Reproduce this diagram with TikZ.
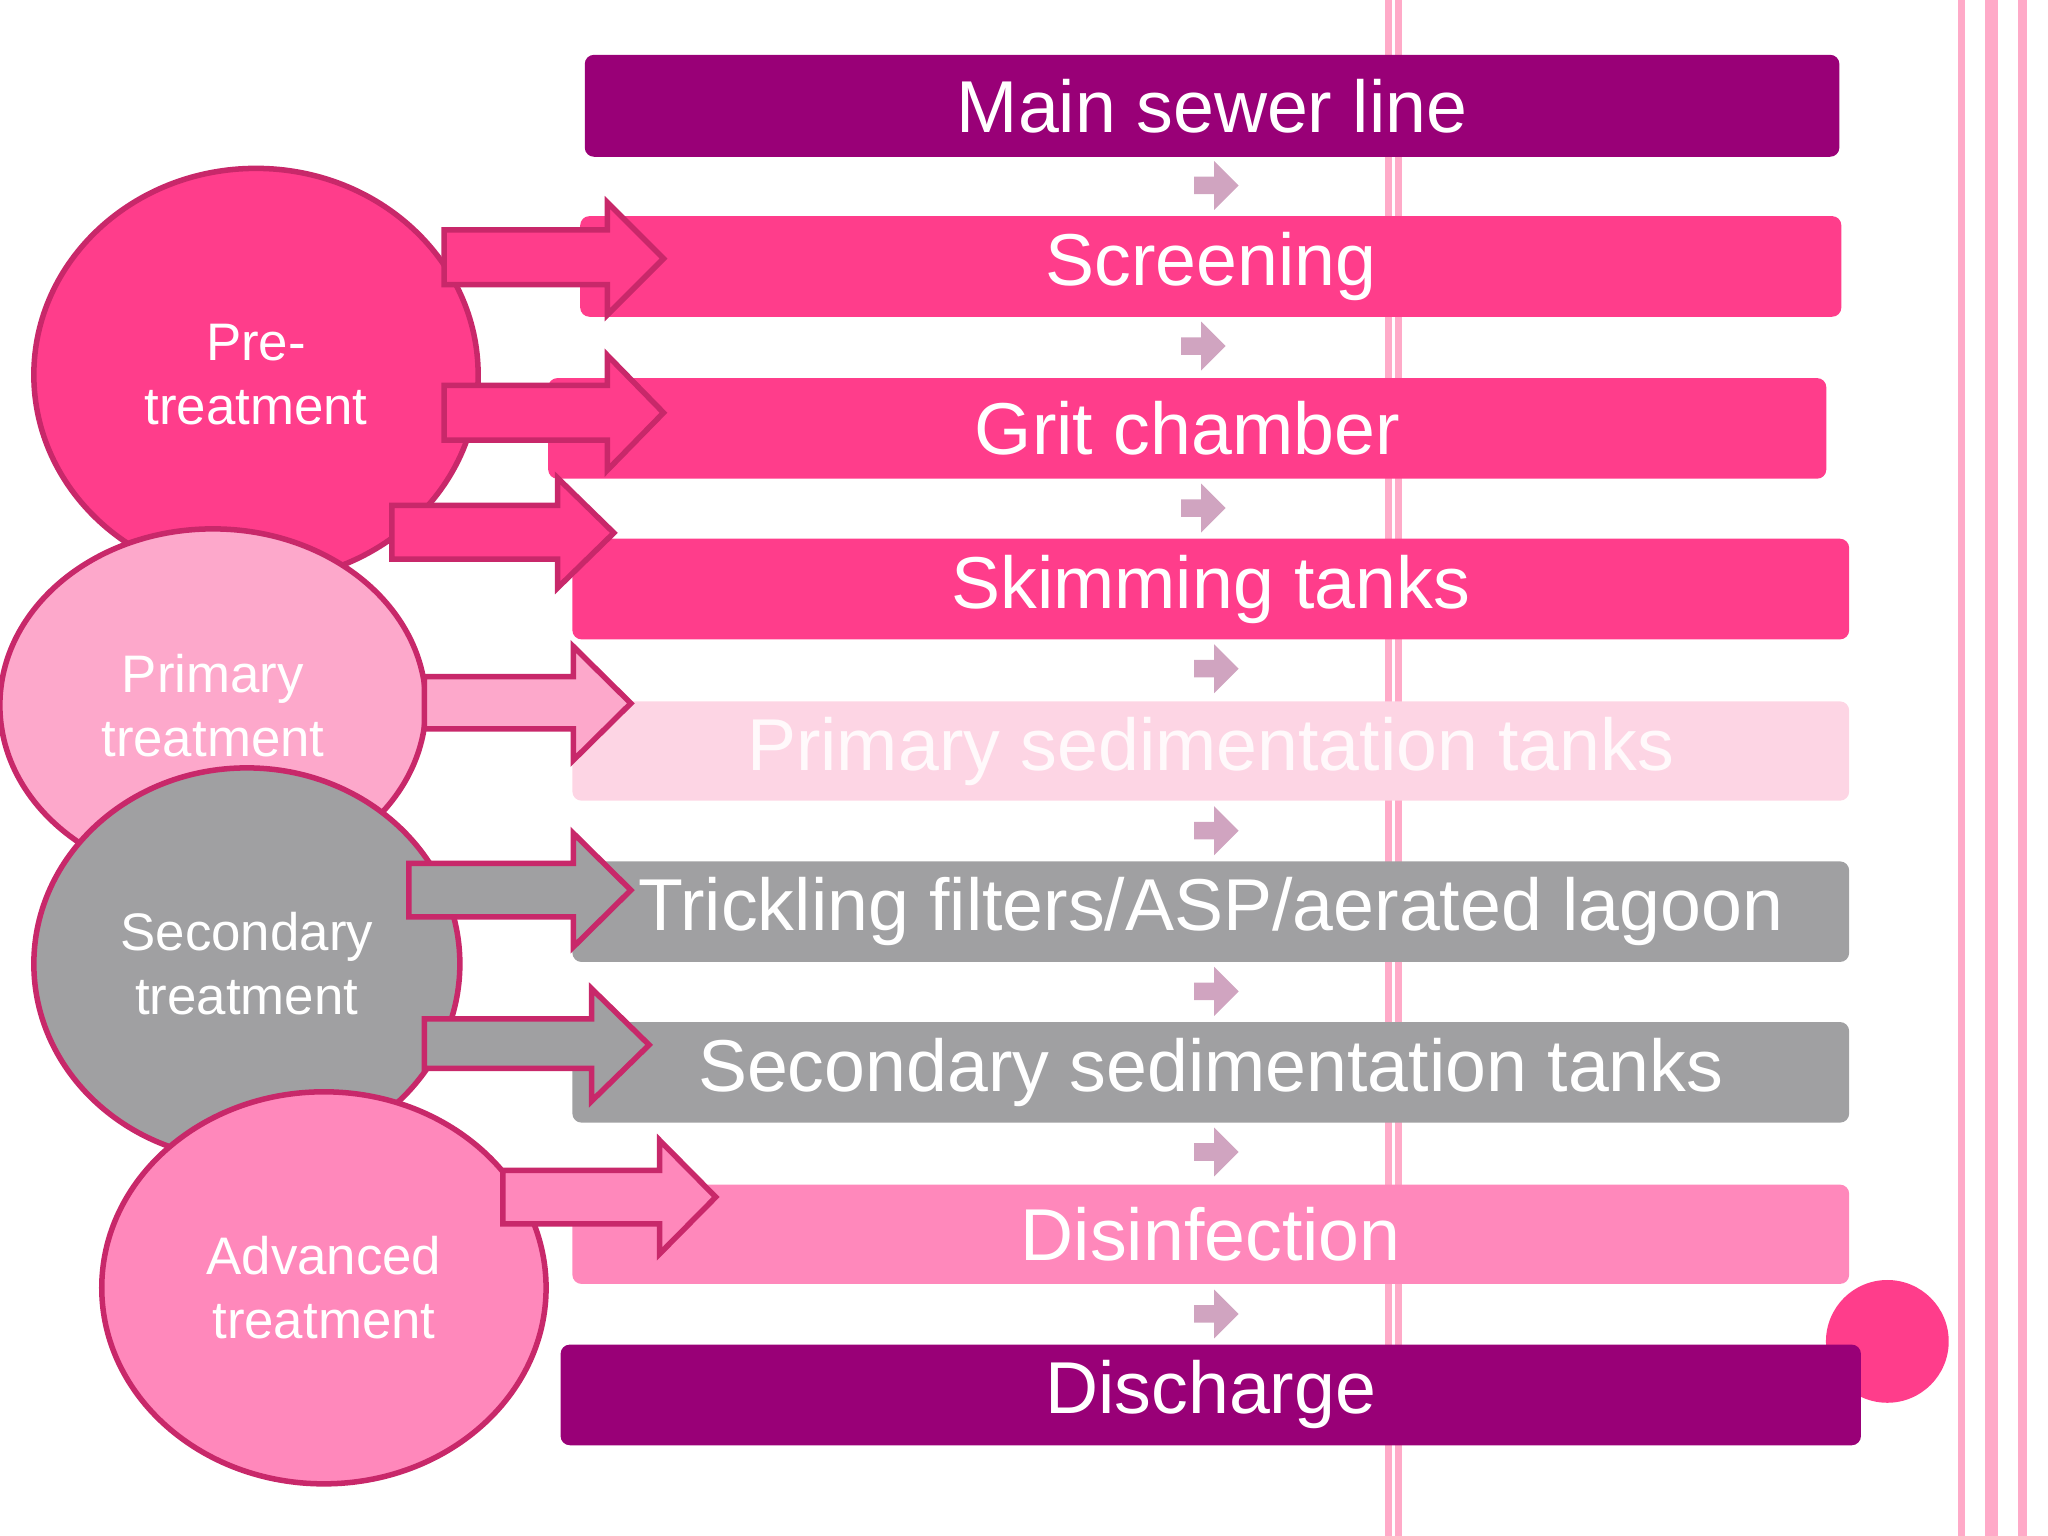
\documentclass[tikz,border=0pt]{standalone}
\usepackage{fontspec}
\setmainfont{Liberation Sans}
\usetikzlibrary{shapes.arrows,shapes.geometric}
\definecolor{purple}{RGB}{153,0,119}
\definecolor{hot}{RGB}{255,61,139}
\definecolor{rose}{RGB}{253,168,203}
\definecolor{blush}{RGB}{253,213,228}
\definecolor{grey}{RGB}{160,160,162}
\definecolor{candy}{RGB}{255,136,187}
\definecolor{edge}{RGB}{200,40,106}
\definecolor{mauve}{RGB}{208,164,192}
\definecolor{stripe}{RGB}{255,170,200}
\tikzset{
  bar/.style={rounded corners=2pt,text=white,font=\fontsize{16}{18}\selectfont,inner sep=0pt},
  blob/.style={ellipse,draw=edge,line width=1.2pt,text=white,align=center,
    font=\fontsize{11.5}{14}\selectfont,inner sep=0pt},
  push/.style={draw=edge,line width=1.2pt,line join=miter},
  stepdown/.style={single arrow,single arrow head extend=1.2mm,minimum height=3.4mm,
    minimum width=3.4mm,inner sep=0.6mm,fill=mauve,shape border rotate=-90}
}
\newcommand{\blockarrow}[8]{%
  \fill[#8] (#1,#4) -- (#3,#4) -- (#3,#6) -- (#2,{(#6+#7)/2}) -- (#3,#7) -- (#3,#5) -- (#1,#5) -- cycle;
  \draw[push] (#1,#4) -- (#3,#4) -- (#3,#6) -- (#2,{(#6+#7)/2}) -- (#3,#7) -- (#3,#5) -- (#1,#5) -- cycle;}
\begin{document}
\begin{tikzpicture}[x=0.01cm,y=-0.01cm]
        \useasboundingbox (0,0) rectangle (1568,1176);
        % page decoration
        \draw[stripe,line width=1.5pt] (1063,0) -- (1063,1176);
        \draw[stripe,line width=1.5pt] (1071,0) -- (1071,1176);
        \draw[stripe,line width=1.5pt] (1502,0) -- (1502,1176);
        \fill[stripe] (1520,0) rectangle (1530,1176);
        \fill[stripe] (1545,0) rectangle (1552,1176);
        \fill[hot] (1445,1027) circle (47);
        % process bars
        \node[bar,fill=purple,minimum width=9.6cm,minimum height=0.78cm] (sewer) at (928,81) {Main sewer line};
        \node[bar,fill=hot,minimum width=9.65cm,minimum height=0.77cm] (screen) at (927,204) {Screening};
        \node[bar,fill=hot,minimum width=9.78cm,minimum height=0.77cm] (grit) at (909,328) {Grit chamber};
        \node[bar,fill=hot,minimum width=9.77cm,minimum height=0.77cm] (skim) at (927,451) {Skimming tanks};
        \node[bar,fill=blush,text=white!85!blush,minimum width=9.77cm,minimum height=0.76cm] (psed) at (927,575) {Primary sedimentation tanks};
        \node[bar,fill=grey,minimum width=9.77cm,minimum height=0.77cm] (trick) at (927,698) {Trickling filters/ASP/aerated lagoon};
        \node[bar,fill=grey,minimum width=9.77cm,minimum height=0.77cm] (ssed) at (927,821) {Secondary sedimentation tanks};
        \node[bar,fill=candy,minimum width=9.77cm,minimum height=0.76cm] (disinf) at (927,945) {Disinfection};
        \node[bar,fill=purple,minimum width=9.95cm,minimum height=0.77cm] (out) at (927,1068) {Discharge};
        % steps between bars
        \foreach \y/\x in {142/928,265/918,389/918,512/928,636/928,759/928,882/928,1006/928}
          \node[stepdown] at (\x,\y) {};
        % stages
        \node[blob,fill=hot,minimum width=3.4cm,minimum height=3.16cm] (pre) at (196,287) {Pre-\\treatment};
        \node[blob,fill=rose,minimum width=3.26cm,minimum height=2.7cm] (prim) at (163,540) {Primary\\treatment};
        \node[blob,fill=grey,minimum width=3.26cm,minimum height=3.0cm] (sec) at (189,738) {Secondary\\treatment};
        \node[blob,fill=candy,minimum width=3.4cm,minimum height=3.0cm] (adv) at (248,986) {Advanced\\treatment};
        % links from stages to bars
        \blockarrow{340}{508}{465}{176}{218}{155}{241}{hot}
        \blockarrow{340}{508}{465}{295}{337}{272}{360}{hot}
        \blockarrow{300}{470}{427}{387}{428}{366}{450}{hot}
        \blockarrow{325}{483}{439}{518}{558}{495}{582}{rose}
        \blockarrow{313}{483}{439}{661}{702}{638}{725}{grey}
        \blockarrow{325}{497}{453}{780}{818}{757}{843}{grey}
        \blockarrow{385}{548}{505}{896}{937}{873}{960}{candy}
    \end{tikzpicture}
\end{document}
